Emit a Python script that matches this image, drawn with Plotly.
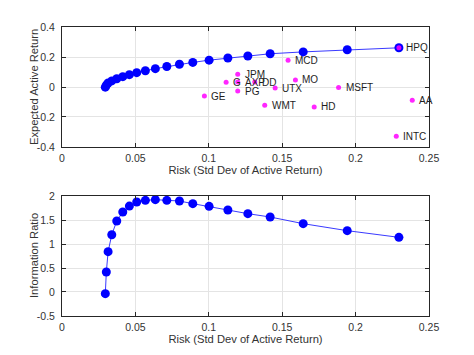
import plotly.graph_objects as go
from plotly.subplots import make_subplots

# Efficient frontier (risk, expected active return, information ratio)
frontier_risk = [0.0295, 0.0302, 0.0314, 0.0339, 0.0373, 0.0414, 0.0459, 0.0509,
                 0.0568, 0.0636, 0.0714, 0.0800, 0.0891, 0.1002, 0.1130, 0.1266,
                 0.1418, 0.1643, 0.1943, 0.2295]
frontier_return = [-0.001, 0.0126, 0.0264, 0.0405, 0.0552, 0.069, 0.0822, 0.0954,
                   0.1085, 0.1224, 0.1364, 0.1517, 0.164, 0.1789, 0.193, 0.2066,
                   0.2216, 0.234, 0.2483, 0.2614]
info_ratio = [-0.035, 0.417, 0.84, 1.194, 1.479, 1.667, 1.79, 1.875, 1.91, 1.924,
              1.91, 1.896, 1.84, 1.785, 1.708, 1.632, 1.5625, 1.424, 1.278, 1.139]

# Individual stocks
stock_names = ["HPQ", "MCD", "JPM", "G", "AXP", "DD", "PG", "MO", "UTX", "MSFT",
               "GE", "WMT", "HD", "AA", "INTC"]
stock_risk = [0.2295, 0.1540, 0.1197, 0.1118, 0.1197, 0.1313, 0.1197, 0.1590, 0.1452,
              0.1884, 0.0970, 0.1381, 0.1718, 0.2386, 0.2277]
stock_return = [0.261, 0.178, 0.085, 0.031, 0.033, 0.033, -0.027, 0.047, -0.007,
                -0.004, -0.060, -0.122, -0.133, -0.089, -0.329]

x_ticks = [0, 0.05, 0.1, 0.15, 0.2, 0.25]
x_tick_text = ["0", "0.05", "0.1", "0.15", "0.2", "0.25"]
y1_ticks = [-0.4, -0.2, 0, 0.2, 0.4]
y1_tick_text = ["-0.4", "-0.2", "0", "0.2", "0.4"]
y2_ticks = [-0.5, 0, 0.5, 1, 1.5, 2]
y2_tick_text = ["-0.5", "0", "0.5", "1", "1.5", "2"]

FONT = "Liberation Sans, Arial, sans-serif"
BLUE = "#0000ff"
LINE_BLUE = "#3a3aff"
MAG = "#ff00ff"
TXT = "#333333"

fig = make_subplots(rows=2, cols=1, vertical_spacing=0.0)

fig.add_trace(go.Scatter(x=frontier_risk, y=frontier_return, mode="lines+markers",
                         line=dict(color=LINE_BLUE, width=1),
                         marker=dict(color=BLUE, size=9), showlegend=False),
              row=1, col=1)
fig.add_trace(go.Scatter(x=stock_risk, y=stock_return, mode="markers",
                         marker=dict(color=MAG, size=5, opacity=0.85),
                         showlegend=False),
              row=1, col=1)
for name, rx, ry in zip(stock_names, stock_risk, stock_return):
    fig.add_annotation(x=rx, y=ry, xref="x", yref="y", text=name, showarrow=False,
                       xanchor="left", yanchor="middle", xshift=5,
                       font=dict(family=FONT, size=10, color="#1e1e1e"))

fig.add_trace(go.Scatter(x=frontier_risk, y=info_ratio, mode="lines+markers",
                         line=dict(color=LINE_BLUE, width=1),
                         marker=dict(color=BLUE, size=9), showlegend=False),
              row=2, col=1)

axis_common = dict(showline=True, linecolor="#262626", linewidth=1, mirror="ticks",
                   ticks="inside", ticklen=4, tickcolor="#262626", automargin=False,
                   showgrid=True, gridcolor="#e4e4e4", gridwidth=1, zeroline=False,
                   tickfont=dict(family=FONT, size=10.5, color=TXT))

fig.update_xaxes(**axis_common, range=[0, 0.25], tickvals=x_ticks, ticktext=x_tick_text,
                 ticklabelstandoff=1,
                 title=dict(text="Risk (Std Dev of Active Return)",
                            font=dict(family=FONT, size=11.2, color=TXT), standoff=0))
fig.update_yaxes(**axis_common, ticklabelstandoff=4)

fig.update_yaxes(range=[-0.4, 0.4], tickvals=y1_ticks, ticktext=y1_tick_text,
                 domain=[0.5848, 1.0], row=1, col=1)
fig.update_yaxes(range=[-0.5, 2], tickvals=y2_ticks, ticktext=y2_tick_text,
                 domain=[0.0, 0.4152], row=2, col=1)

# y-axis titles
for title, y0, y1 in [("Expected Active Return", 0.5848, 1.0),
                      ("Information Ratio", 0.0, 0.4152)]:
    fig.add_annotation(x=0, y=(y0 + y1) / 2, xref="paper", yref="paper", text=title,
                       showarrow=False, textangle=-90, xanchor="center",
                       yanchor="middle", xshift=-28,
                       font=dict(family=FONT, size=11.2, color=TXT))

fig.update_layout(width=466, height=347, margin=dict(l=54, r=45, t=19, b=39),
                  plot_bgcolor="white", paper_bgcolor="white",
                  font=dict(family=FONT, color=TXT))

fig.write_html("out.html")
